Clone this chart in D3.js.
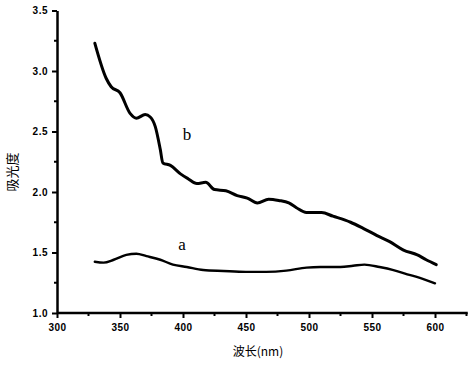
<!DOCTYPE html>
<html><head><meta charset="utf-8">
<script src="https://cdn.jsdelivr.net/npm/d3@7"></script>
<style>body{margin:0;background:#fff}svg{display:block}</style>
</head><body><svg id="c" width="474" height="366"></svg>
<script>
const wavelengthB = [330,339,343,350,358,363,370,374,378,382,384,390,398,404,411,418,425,434,443,451,459,468,476,484,490,498,510,519,533,543,554,564,575,586,593,601];
const valuesB     = [3.23,2.94,2.87,2.82,2.65,2.61,2.64,2.62,2.54,2.35,2.24,2.22,2.15,2.11,2.07,2.08,2.02,2.01,1.97,1.95,1.91,1.94,1.93,1.91,1.87,1.83,1.83,1.80,1.75,1.70,1.64,1.59,1.52,1.48,1.44,1.40];
const wavelengthA = [330,337,345,355,363,371,382,392,403,416,432,450,466,482,498,509,525,535,544,556,567,578,588,600];
const valuesA     = [1.424,1.416,1.44,1.48,1.49,1.47,1.44,1.40,1.38,1.355,1.347,1.34,1.34,1.35,1.375,1.38,1.38,1.39,1.40,1.38,1.355,1.32,1.29,1.245];
const xTicks = [300,350,400,450,500,550,600];
const yTicks = [1.0,1.5,2.0,2.5,3.0,3.5];
const xMinor = [325,375,425,475,525,575,625];
const yMinor = [1.25,1.75,2.25,2.75,3.25];

const svg = d3.select("#c");
const x = d3.scaleLinear().domain([300,600]).range([57,435]);
const y = d3.scaleLinear().domain([1.0,3.5]).range([313,10.5]);

const gx = svg.append("g").attr("transform",`translate(0,${y(1.0)})`)
  .call(d3.axisBottom(x).tickValues(xTicks).tickFormat(d3.format("d")).tickSize(5).tickSizeOuter(0));
gx.select(".domain").attr("d",`M${x(300)},0H${x(626)}`);
gx.append("g").selectAll("line").data(xMinor).join("line")
  .attr("x1",d=>x(d)).attr("x2",d=>x(d)).attr("y1",0).attr("y2",3).attr("stroke","#000").attr("stroke-width",2);

const gy = svg.append("g").attr("transform",`translate(${x(300)},0)`)
  .call(d3.axisLeft(y).tickValues(yTicks).tickFormat(d3.format(".1f")).tickSize(5).tickSizeOuter(0));
gy.append("g").selectAll("line").data(yMinor).join("line")
  .attr("y1",d=>y(d)).attr("y2",d=>y(d)).attr("x1",0).attr("x2",-3).attr("stroke","#000").attr("stroke-width",2);

[gx,gy].forEach(g=>{
  g.select(".domain").attr("stroke","#000").attr("stroke-width",2.5);
  g.selectAll(".tick line").attr("stroke","#000").attr("stroke-width",2);
  g.selectAll(".tick text").attr("font-family","Liberation Sans, Arial, sans-serif").attr("font-size",10).attr("font-weight","bold").attr("letter-spacing","0.5px").attr("fill","#000");
});
gx.selectAll(".tick text").attr("dy","1.0em");
gy.selectAll(".tick text").attr("x",-9);

const line = d3.line().x(d=>x(d[0])).y(d=>y(d[1])).curve(d3.curveMonotoneX);
svg.append("path").datum(wavelengthB.map((w,i)=>[w,valuesB[i]]))
  .attr("d",line).attr("fill","none").attr("stroke","#000").attr("stroke-width",3).attr("stroke-linejoin","round").attr("stroke-linecap","round");
svg.append("path").datum(wavelengthA.map((w,i)=>[w,valuesA[i]]))
  .attr("d",line).attr("fill","none").attr("stroke","#000").attr("stroke-width",2.4).attr("stroke-linejoin","round").attr("stroke-linecap","round");

svg.append("text").attr("x",187).attr("y",140).attr("text-anchor","middle")
  .attr("font-family","Liberation Serif, Times New Roman, serif").attr("font-size",17).text("b");
svg.append("text").attr("x",182).attr("y",250).attr("text-anchor","middle")
  .attr("font-family","Liberation Serif, Times New Roman, serif").attr("font-size",17).text("a");

svg.append("text").attr("transform","translate(17,172) rotate(-90)").attr("text-anchor","middle")
  .attr("font-family","Noto Sans CJK SC, sans-serif").attr("font-size",13).text("吸光度");
svg.append("text").attr("x",258).attr("y",356).attr("text-anchor","middle")
  .attr("font-family","Noto Sans CJK SC, sans-serif").attr("font-size",12).text("波长(nm)");
</script></body></html>
